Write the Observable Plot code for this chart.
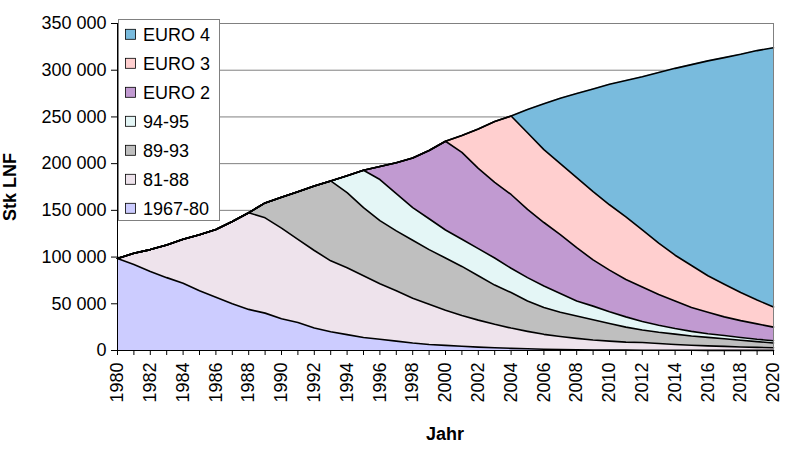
<!DOCTYPE html>
<html><head><meta charset="utf-8">
<script src="https://cdn.jsdelivr.net/npm/d3@7"></script>
<script src="https://cdn.jsdelivr.net/npm/@observablehq/plot@0.6"></script>
<style>body{margin:0;background:#fff}</style>
</head><body><div id="chart"></div>
<script>
const years = [1980,1981,1982,1983,1984,1985,1986,1987,1988,1989,1990,1991,1992,1993,1994,1995,1996,1997,1998,1999,2000,2001,2002,2003,2004,2005,2006,2007,2008,2009,2010,2011,2012,2013,2014,2015,2016,2017,2018,2019,2020];
const xLabelYears = [1980,1982,1984,1986,1988,1990,1992,1994,1996,1998,2000,2002,2004,2006,2008,2010,2012,2014,2016,2018,2020];
const yTicks = [0,50000,100000,150000,200000,250000,300000,350000];

const seriesNames = ["1967-80","81-88","89-93","94-95","EURO 2","EURO 3","EURO 4"];
const seriesColors = ["#ccccff","#eee3ec","#bfbfbf","#e4f6f6","#c19ad1","#ffcfcf","#79bbdd"];

const s1967_80 = [98500,92000,84500,78000,72000,64000,57000,50000,44000,40000,34000,30000,24000,20000,17000,14000,12000,10000,8000,6500,5500,4500,3600,3000,2300,1800,1300,1000,800,600,500,400,300,300,200,200,100,100,100,100,100];
const s81_88 = [0,12000,23500,35000,47000,60000,72500,88000,103500,102000,97000,89000,83000,76000,71500,66000,59500,54000,48000,43000,37500,33000,28900,25000,21700,18700,16000,14000,12200,10700,9500,8600,8200,7200,6300,5500,4900,4300,3700,3200,2900];
const s89_93 = [0,0,0,0,0,0,0,0,0,16000,33000,51000,69000,85500,80500,73000,67500,64000,62000,58500,56000,52500,47500,42000,38000,32500,28700,26000,24000,21700,19000,16000,13500,12000,11000,9800,9000,8100,7200,6200,5000];
const s94_95 = [0,0,0,0,0,0,0,0,0,0,0,0,0,0,18000,40000,44000,40000,35000,33000,30000,29000,29000,29000,26000,25000,23000,20000,16000,14500,12500,11000,9000,7500,6000,5000,4000,3500,3000,2500,2500];
const sEuro2 = [0,0,0,0,0,0,0,0,0,0,0,0,0,0,0,0,14000,33000,53000,73000,95000,93000,86000,81000,79000,73000,68000,63000,57000,49500,44500,40000,37000,33000,29500,25500,23000,20000,18000,16500,14500];
const sEuro3 = [0,0,0,0,0,0,0,0,0,0,0,0,0,0,0,0,0,0,0,0,0,18000,42000,65000,84000,82000,78000,76000,75000,73000,70000,67000,61000,55000,49000,45000,39000,35000,30000,25500,21500];
const sEuro4 = [0,0,0,0,0,0,0,0,0,0,0,0,0,0,0,0,0,0,0,0,0,0,0,0,0,25000,49000,70000,90000,110000,129000,146000,164000,182500,200000,215000,230000,242500,255000,267000,277500];

const seriesValues = [s1967_80, s81_88, s89_93, s94_95, sEuro2, sEuro3, sEuro4];
const data = [];
seriesNames.forEach((name, i) => seriesValues[i].forEach((v, j) => data.push({year: years[j], series: name, value: v})));

const fmt = d => d3.format(",")(d).replace(/,/g, " ");
const FONT = "'Liberation Sans', Arial, sans-serif";

const chart = Plot.plot({
  width: 800, height: 455,
  marginLeft: 117, marginRight: 27, marginTop: 23, marginBottom: 105,
  style: {fontFamily: FONT, fontSize: "18px", color: "#000", background: "#fff", overflow: "visible"},
  x: {domain: [1980, 2020]},
  y: {domain: [0, 350000]},
  color: {domain: seriesNames, range: seriesColors},
  marks: [
    Plot.gridY(yTicks, {stroke: "#808080", strokeOpacity: 1}),
    Plot.areaY(data, {x: "year", y: "value", z: "series", fill: "series", order: seriesNames}),
    Plot.lineY(data, Plot.stackY2({x: "year", y: "value", z: "series", order: seriesNames, stroke: "#000", strokeWidth: 1.6})),
    Plot.frame({stroke: "#808080"}),
    Plot.ruleY([0], {stroke: "#000"}),
    Plot.ruleX([1980], {stroke: "#000"}),
    Plot.axisX(years, {tickSize: 5, tickFormat: () => "", label: null}),
    Plot.axisX(xLabelYears, {tickSize: 0, tickPadding: 12, tickRotate: -90, tickFormat: d => String(d), label: null, fontSize: 18}),
    Plot.axisY(yTicks, {tickSize: 6, tickPadding: 5, tickFormat: fmt, label: null, fontSize: 18})
  ]
});
document.getElementById("chart").appendChild(chart);

const svg = d3.select(chart);
// Axis titles
svg.append("text").attr("transform", "translate(16,187) rotate(-90)")
  .attr("text-anchor", "middle").attr("font-family", FONT).attr("font-size", 18).attr("font-weight", "bold")
  .attr("fill", "#000").text("Stk LNF");
svg.append("text").attr("x", 445).attr("y", 440)
  .attr("text-anchor", "middle").attr("font-family", FONT).attr("font-size", 18).attr("font-weight", "bold")
  .attr("fill", "#000").text("Jahr");

// Legend
const lg = svg.append("g");
lg.append("rect").attr("x", 118.5).attr("y", 19.5).attr("width", 101).attr("height", 201)
  .attr("fill", "#fff").attr("stroke", "#808080");
const legendOrder = seriesNames.map((n, i) => ({name: n, color: seriesColors[i]})).reverse();
legendOrder.forEach((d, i) => {
  const cy = 34.3 + i * 29;
  lg.append("rect").attr("x", 125.5).attr("y", cy - 5).attr("width", 10).attr("height", 10)
    .attr("fill", d.color).attr("stroke", "#000").attr("stroke-width", 0.8);
  lg.append("text").attr("x", 143).attr("y", cy + 6.5).attr("text-anchor", "start")
    .attr("font-family", FONT).attr("font-size", 18).attr("fill", "#000").text(d.name);
});
</script>
</body></html>
